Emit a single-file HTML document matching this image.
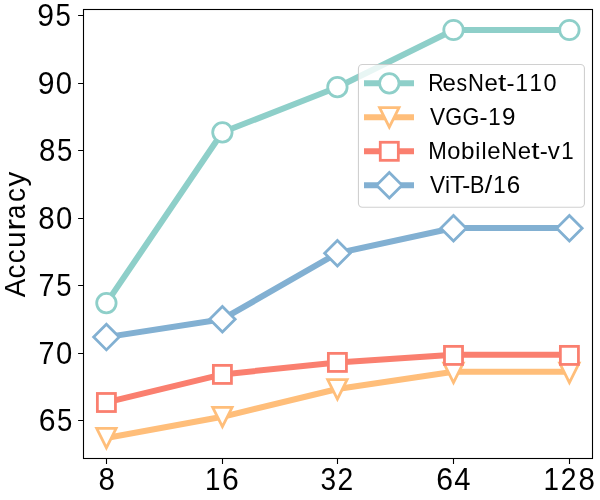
<!DOCTYPE html>
<html><head><meta charset="utf-8"><style>
html,body{margin:0;padding:0;background:#fff;}
body{width:600px;height:500px;overflow:hidden;}
svg{display:block;will-change:transform;}
text{font-family:"Liberation Sans",sans-serif;fill:#000;}
</style></head><body>
<svg width="600" height="500" viewBox="0 0 600 500">
<rect width="600" height="500" fill="#fff"/>
<polyline points="106.40,303.10 222.40,132.30 337.40,87.20 453.50,30.00 569.40,30.00" fill="none" stroke="#8ECFC9" stroke-width="6.0" stroke-linejoin="round" stroke-linecap="square"/>
<circle cx="106.40" cy="303.10" r="9.72" fill="#fff" stroke="#8ECFC9" stroke-width="2.78" stroke-linejoin="miter" stroke-miterlimit="10"/>
<circle cx="222.40" cy="132.30" r="9.72" fill="#fff" stroke="#8ECFC9" stroke-width="2.78" stroke-linejoin="miter" stroke-miterlimit="10"/>
<circle cx="337.40" cy="87.20" r="9.72" fill="#fff" stroke="#8ECFC9" stroke-width="2.78" stroke-linejoin="miter" stroke-miterlimit="10"/>
<circle cx="453.50" cy="30.00" r="9.72" fill="#fff" stroke="#8ECFC9" stroke-width="2.78" stroke-linejoin="miter" stroke-miterlimit="10"/>
<circle cx="569.40" cy="30.00" r="9.72" fill="#fff" stroke="#8ECFC9" stroke-width="2.78" stroke-linejoin="miter" stroke-miterlimit="10"/>
<polyline points="106.40,438.00 222.40,416.80 337.40,389.00 453.50,371.80 569.40,371.80" fill="none" stroke="#FFBE7A" stroke-width="6.0" stroke-linejoin="round" stroke-linecap="square"/>
<path d="M96.68,428.38L116.12,428.38L106.40,447.82Z" fill="#fff" stroke="#FFBE7A" stroke-width="2.78" stroke-linejoin="miter" stroke-miterlimit="10"/>
<path d="M212.68,407.28L232.12,407.28L222.40,426.72Z" fill="#fff" stroke="#FFBE7A" stroke-width="2.78" stroke-linejoin="miter" stroke-miterlimit="10"/>
<path d="M327.68,379.58L347.12,379.58L337.40,399.02Z" fill="#fff" stroke="#FFBE7A" stroke-width="2.78" stroke-linejoin="miter" stroke-miterlimit="10"/>
<path d="M443.78,363.08L463.22,363.08L453.50,382.52Z" fill="#fff" stroke="#FFBE7A" stroke-width="2.78" stroke-linejoin="miter" stroke-miterlimit="10"/>
<path d="M559.68,363.08L579.12,363.08L569.40,382.52Z" fill="#fff" stroke="#FFBE7A" stroke-width="2.78" stroke-linejoin="miter" stroke-miterlimit="10"/>
<polyline points="106.40,402.50 222.40,374.40 337.40,362.40 453.50,354.80 569.40,354.80" fill="none" stroke="#FA7F6F" stroke-width="6.0" stroke-linejoin="round" stroke-linecap="square"/>
<rect x="97.37" y="393.47" width="18.06" height="18.06" fill="#fff" stroke="#FA7F6F" stroke-width="2.78" stroke-linejoin="miter" stroke-miterlimit="10"/>
<rect x="213.37" y="365.37" width="18.06" height="18.06" fill="#fff" stroke="#FA7F6F" stroke-width="2.78" stroke-linejoin="miter" stroke-miterlimit="10"/>
<rect x="328.37" y="353.37" width="18.06" height="18.06" fill="#fff" stroke="#FA7F6F" stroke-width="2.78" stroke-linejoin="miter" stroke-miterlimit="10"/>
<rect x="444.47" y="346.37" width="18.06" height="18.06" fill="#fff" stroke="#FA7F6F" stroke-width="2.78" stroke-linejoin="miter" stroke-miterlimit="10"/>
<rect x="560.37" y="346.37" width="18.06" height="18.06" fill="#fff" stroke="#FA7F6F" stroke-width="2.78" stroke-linejoin="miter" stroke-miterlimit="10"/>
<polyline points="106.40,337.10 222.40,319.20 337.40,253.20 453.50,228.00 569.40,228.00" fill="none" stroke="#82B0D2" stroke-width="6.0" stroke-linejoin="round" stroke-linecap="square"/>
<path d="M106.40,324.33L119.17,337.10L106.40,349.87L93.63,337.10Z" fill="#fff" stroke="#82B0D2" stroke-width="2.78" stroke-linejoin="miter" stroke-miterlimit="10"/>
<path d="M222.40,306.43L235.17,319.20L222.40,331.97L209.63,319.20Z" fill="#fff" stroke="#82B0D2" stroke-width="2.78" stroke-linejoin="miter" stroke-miterlimit="10"/>
<path d="M337.40,240.43L350.17,253.20L337.40,265.97L324.63,253.20Z" fill="#fff" stroke="#82B0D2" stroke-width="2.78" stroke-linejoin="miter" stroke-miterlimit="10"/>
<path d="M453.50,215.43L466.27,228.20L453.50,240.97L440.73,228.20Z" fill="#fff" stroke="#82B0D2" stroke-width="2.78" stroke-linejoin="miter" stroke-miterlimit="10"/>
<path d="M569.40,215.43L582.17,228.20L569.40,240.97L556.63,228.20Z" fill="#fff" stroke="#82B0D2" stroke-width="2.78" stroke-linejoin="miter" stroke-miterlimit="10"/>
<rect x="83.5" y="9.5" width="509" height="449" fill="none" stroke="#000" stroke-width="1.1" stroke-linejoin="miter"/>
<path d="M106.5,459V463.9 M222.5,459V463.9 M337.5,459V463.9 M453.5,459V463.9 M569.5,459V463.9 M78.1,15.5H83 M78.1,83.5H83 M78.1,150.5H83 M78.1,218.5H83 M78.1,285.5H83 M78.1,353.5H83 M78.1,420.5H83" stroke="#000" stroke-width="1.1" fill="none"/>
<text transform="translate(98.61,489.90) scale(0.968,1)" font-size="30.5">8</text>
<text transform="translate(204.95,489.90) scale(0.913,1)" font-size="30.5">1</text><text transform="translate(222.08,489.90) scale(0.990,1)" font-size="30.5">6</text>
<text transform="translate(320.39,489.90) scale(0.920,1)" font-size="30.5">3</text><text transform="translate(337.61,489.90) scale(0.926,1)" font-size="30.5">2</text>
<text transform="translate(436.33,489.90) scale(0.990,1)" font-size="30.5">6</text><text transform="translate(454.26,489.90) scale(0.957,1)" font-size="30.5">4</text>
<text transform="translate(543.55,489.90) scale(0.913,1)" font-size="30.5">1</text><text transform="translate(560.86,489.90) scale(0.926,1)" font-size="30.5">2</text><text transform="translate(578.54,489.90) scale(0.968,1)" font-size="30.5">8</text>
<text transform="translate(37.23,26.00) scale(0.989,1)" font-size="30.5">9</text><text transform="translate(55.60,26.00) scale(0.904,1)" font-size="30.5">5</text>
<text transform="translate(37.85,94.00) scale(0.989,1)" font-size="30.5">9</text><text transform="translate(55.84,94.00) scale(0.960,1)" font-size="30.5">0</text>
<text transform="translate(38.95,161.00) scale(0.968,1)" font-size="30.5">8</text><text transform="translate(57.00,161.00) scale(0.904,1)" font-size="30.5">5</text>
<text transform="translate(38.37,229.00) scale(0.968,1)" font-size="30.5">8</text><text transform="translate(56.04,229.00) scale(0.960,1)" font-size="30.5">0</text>
<text transform="translate(38.38,296.00) scale(0.942,1)" font-size="30.5">7</text><text transform="translate(56.30,296.00) scale(0.904,1)" font-size="30.5">5</text>
<text transform="translate(38.51,364.00) scale(0.942,1)" font-size="30.5">7</text><text transform="translate(56.04,364.00) scale(0.960,1)" font-size="30.5">0</text>
<text transform="translate(38.74,431.00) scale(0.990,1)" font-size="30.5">6</text><text transform="translate(57.00,431.00) scale(0.904,1)" font-size="30.5">5</text>
<g transform="translate(24.8,297.2) rotate(-90)"><text transform="translate(-0.07,0.00) scale(0.932,1)" font-size="30">A</text><text transform="translate(18.61,0.00) scale(0.930,1)" font-size="30">c</text><text transform="translate(33.87,0.00) scale(0.930,1)" font-size="30">c</text><text transform="translate(49.20,0.00) scale(0.996,1)" font-size="30">u</text><text transform="translate(66.48,0.00) scale(1.185,1)" font-size="30">r</text><text transform="translate(78.24,0.00) scale(0.850,1)" font-size="30">a</text><text transform="translate(95.13,0.00) scale(0.930,1)" font-size="30">c</text><text transform="translate(110.79,0.00) scale(0.994,1)" font-size="30">y</text></g>
<rect x="358.45" y="64.45" width="226" height="142.85" rx="4" ry="4" fill="#fff" fill-opacity="0.8" stroke="#c8c8c8" stroke-opacity="0.85" stroke-width="1.1"/>
<path d="M364,83.30H414" stroke="#8ECFC9" stroke-width="6.0" fill="none"/>
<circle cx="389.30" cy="83.30" r="9.72" fill="#fff" stroke="#8ECFC9" stroke-width="2.78" stroke-linejoin="miter" stroke-miterlimit="10"/>
<text transform="translate(428.24,90.80) scale(0.877,1)" font-size="24.3">R</text><text transform="translate(442.49,90.80) scale(0.986,1)" font-size="24.3">e</text><text transform="translate(456.58,90.80) scale(0.874,1)" font-size="24.3">s</text><text transform="translate(467.92,90.80) scale(0.907,1)" font-size="24.3">N</text><text transform="translate(484.41,90.80) scale(0.986,1)" font-size="24.3">e</text><text transform="translate(498.03,90.80) scale(1.225,1)" font-size="24.3">t</text><text transform="translate(506.62,90.80) scale(0.992,1)" font-size="24.3">-</text><text transform="translate(515.42,90.80) scale(0.919,1)" font-size="24.3">1</text><text transform="translate(529.57,90.80) scale(0.919,1)" font-size="24.3">1</text><text transform="translate(543.48,90.80) scale(0.966,1)" font-size="24.3">0</text>
<path d="M364,117.30H414" stroke="#FFBE7A" stroke-width="6.0" fill="none"/>
<path d="M379.58,107.58L399.02,107.58L389.30,127.02Z" fill="#fff" stroke="#FFBE7A" stroke-width="2.78" stroke-linejoin="miter" stroke-miterlimit="10"/>
<text transform="translate(429.89,124.80) scale(0.930,1)" font-size="24.3">V</text><text transform="translate(445.21,124.80) scale(0.894,1)" font-size="24.3">G</text><text transform="translate(462.45,124.80) scale(0.894,1)" font-size="24.3">G</text><text transform="translate(479.54,124.80) scale(0.992,1)" font-size="24.3">-</text><text transform="translate(488.34,124.80) scale(0.919,1)" font-size="24.3">1</text><text transform="translate(501.97,124.80) scale(0.995,1)" font-size="24.3">9</text>
<path d="M364,151.30H414" stroke="#FA7F6F" stroke-width="6.0" fill="none"/>
<rect x="380.27" y="142.27" width="18.06" height="18.06" fill="#fff" stroke="#FA7F6F" stroke-width="2.78" stroke-linejoin="miter" stroke-miterlimit="10"/>
<text transform="translate(428.17,158.90) scale(0.915,1)" font-size="24.3">M</text><text transform="translate(447.24,158.90) scale(0.972,1)" font-size="24.3">o</text><text transform="translate(461.07,158.90) scale(0.996,1)" font-size="24.3">b</text><text transform="translate(475.30,158.90) scale(0.941,1)" font-size="24.3">i</text><text transform="translate(481.48,158.90) scale(0.941,1)" font-size="24.3">l</text><text transform="translate(487.33,158.90) scale(0.986,1)" font-size="24.3">e</text><text transform="translate(501.17,158.90) scale(0.907,1)" font-size="24.3">N</text><text transform="translate(517.66,158.90) scale(0.986,1)" font-size="24.3">e</text><text transform="translate(531.28,158.90) scale(1.225,1)" font-size="24.3">t</text><text transform="translate(539.86,158.90) scale(0.992,1)" font-size="24.3">-</text><text transform="translate(547.79,158.90) scale(0.995,1)" font-size="24.3">v</text><text transform="translate(561.21,158.90) scale(0.919,1)" font-size="24.3">1</text>
<path d="M364,185.30H414" stroke="#82B0D2" stroke-width="6.0" fill="none"/>
<path d="M389.30,172.53L402.07,185.30L389.30,198.07L376.53,185.30Z" fill="#fff" stroke="#82B0D2" stroke-width="2.78" stroke-linejoin="miter" stroke-miterlimit="10"/>
<text transform="translate(429.89,192.80) scale(0.930,1)" font-size="24.3">V</text><text transform="translate(445.10,192.80) scale(0.941,1)" font-size="24.3">i</text><text transform="translate(450.12,192.80) scale(0.999,1)" font-size="24.3">T</text><text transform="translate(462.33,192.80) scale(0.992,1)" font-size="24.3">-</text><text transform="translate(470.01,192.80) scale(0.889,1)" font-size="24.3">B</text><text transform="translate(484.86,192.80) scale(1.112,1)" font-size="24.3">/</text><text transform="translate(493.14,192.80) scale(0.919,1)" font-size="24.3">1</text><text transform="translate(506.85,192.80) scale(0.997,1)" font-size="24.3">6</text>
</svg>
</body></html>
